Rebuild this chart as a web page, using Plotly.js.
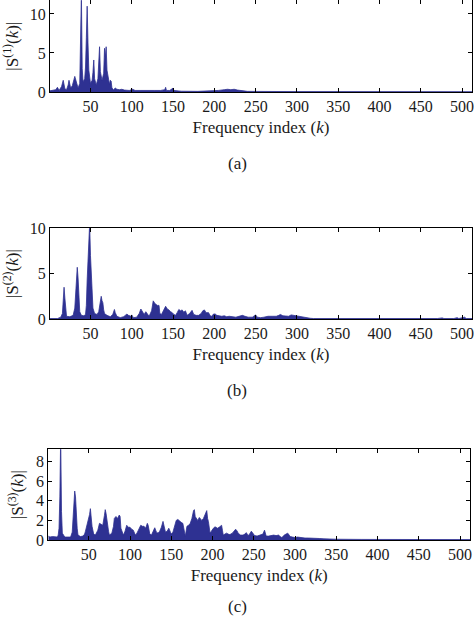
<!DOCTYPE html>
<html>
<head>
<meta charset="utf-8">
<script src="https://cdn.plot.ly/plotly-3.0.1.min.js"></script>
<style>html,body{margin:0;padding:0;background:#fff;}#chart{width:474px;height:617px;}</style>
</head>
<body>
<div id="chart"></div>
<script>
// Frequency-index tick labels
const xTicks = [50, 100, 150, 200, 250, 300, 350, 400, 450, 500];

// Panel (a): |S^(1)(k)|
const kA = [1,4,8,10,12,15,17,19,21,23,24,26,28,31,33,35,37,38,39,40,41,43,44,45,46,47,48,50,52,53,54,55,57,59,60,61,62,64,66,67,68,69,70,72,73,74,75,76,78,80,82,85,88,91,94,97,101,104,110,120,128,135,140,141,142,146,150,151,160,180,200,205,212,216,220,224,228,235,240,300,400,512];
const sA = [0.15,0.2,0.3,0.6,0.2,0.7,1.5,0.4,0.3,0.9,1.5,0.5,0.8,2.0,1.1,0.5,1.1,5.3,12.5,3.0,1.3,1.7,3.2,7.0,11.0,6.3,2.8,1.1,1.5,2.5,4.1,1.7,0.9,1.7,4.0,5.8,2.6,1.5,2.4,5.6,4.5,5.8,2.8,1.5,1.0,1.5,1.4,0.5,0.3,0.5,0.35,0.3,0.35,0.25,0.25,0.2,0.35,0.2,0.2,0.15,0.2,0.2,0.3,0.6,0.2,0.2,0.5,0.2,0.1,0.08,0.1,0.2,0.3,0.35,0.3,0.35,0.25,0.15,0.08,0.05,0.04,0.04];

// Panel (b): |S^(2)(k)|
const kB = [1,10,14,16,17,18,19,20,21,25,29,31,32,33,34,35,36,37,39,42,44,45,46,47,48,49,50,51,52,53,55,58,60,61,62,63,64,65,66,67,70,74,77,79,80,82,86,90,93,94,96,99,100,102,106,109,111,113,115,117,119,121,124,126,128,129,131,133,134,136,139,141,143,145,147,149,151,153,155,157,159,161,163,165,167,170,173,175,178,181,184,186,188,190,193,195,197,199,201,203,206,209,212,215,218,222,226,230,234,237,241,246,250,252,256,260,265,270,275,278,280,283,287,290,293,296,299,302,305,309,312,316,320,350,400,470,476,478,490,494,496,503,505,512];
const sB = [0.05,0.05,0.2,0.6,2.0,3.5,2.3,0.7,0.3,0.25,0.4,1.2,2.5,4.0,5.7,4.5,2.5,0.8,0.4,0.35,0.5,1.5,4.3,6.5,8.5,10.5,7.0,4.3,2.5,1.2,0.6,0.5,0.8,1.5,2.1,2.5,2.0,1.8,1.0,0.6,0.4,0.25,0.5,1.05,0.7,0.3,0.15,0.25,0.45,0.55,0.4,0.3,0.45,0.15,0.2,0.6,1.1,0.8,0.5,0.8,0.6,0.3,0.9,2.0,1.7,1.6,1.5,1.5,0.6,0.5,1.0,1.4,1.1,1.0,0.8,0.7,0.5,0.4,0.7,1.05,0.9,1.0,0.75,0.9,0.4,0.6,0.95,0.5,0.4,0.4,0.6,0.9,1.0,0.7,0.7,0.35,0.3,0.55,0.55,0.4,0.35,0.3,0.35,0.25,0.3,0.25,0.2,0.3,0.4,0.3,0.2,0.2,0.45,0.2,0.15,0.2,0.3,0.3,0.3,0.4,0.5,0.35,0.3,0.3,0.45,0.4,0.3,0.25,0.2,0.2,0.15,0.08,0.05,0.04,0.04,0.05,0.12,0.05,0.05,0.15,0.05,0.2,0.05,0.05];

// Panel (c): |S^(3)(k)|
const kC = [1,3,6,9,12,13,14,15,16,17,18,21,25,28,30,31,32,33,34,35,36,37,40,43,45,46,48,50,51,52,53,54,56,58,61,63,65,67,69,70,71,72,74,75,78,80,81,83,85,87,88,89,91,92,94,96,98,100,102,104,106,107,109,111,113,115,117,119,121,122,124,126,128,130,132,134,136,138,140,141,143,145,147,149,150,152,154,156,158,160,162,164,166,167,169,171,173,175,177,178,179,181,182,184,185,187,189,191,193,194,195,197,199,201,203,205,206,208,210,211,212,213,215,217,219,221,224,226,228,230,231,234,237,239,241,243,245,247,249,251,254,258,261,263,264,265,268,271,274,277,280,282,284,287,289,291,292,294,297,300,303,306,309,312,316,320,324,327,330,335,340,350,380,420,460,512];
const sC = [0.4,0.3,0.35,0.3,0.3,0.5,1.2,4.4,10.5,2.9,0.7,0.3,0.3,0.3,0.8,2.0,4.2,5.0,4.4,2.5,1.2,0.5,0.35,0.4,0.6,0.9,1.5,2.2,2.6,3.2,2.4,1.4,0.6,0.5,1.0,1.7,1.6,1.5,2.5,3.1,2.7,1.9,0.9,0.5,0.7,1.4,2.2,2.4,2.2,2.55,2.4,1.2,0.6,0.5,0.9,1.5,1.3,1.3,1.1,1.0,0.6,0.5,0.8,1.2,1.5,1.4,1.4,1.2,1.7,1.5,0.6,0.5,0.9,1.25,0.8,0.7,0.9,1.3,1.9,1.6,0.8,0.9,1.2,0.8,0.6,0.8,1.5,2.0,2.1,1.9,1.8,1.7,0.9,0.4,1.4,1.5,1.7,2.2,3.0,3.1,2.4,2.1,2.0,2.3,2.2,2.0,2.2,2.6,3.0,2.2,1.9,0.7,1.0,1.2,1.35,1.3,1.2,1.3,1.4,1.5,1.0,0.5,0.6,0.7,0.6,0.55,0.7,0.9,1.1,0.9,0.7,0.5,0.5,0.6,0.75,0.45,0.6,0.9,0.7,0.45,0.4,0.5,0.6,1.0,0.7,0.4,0.4,0.45,0.5,0.45,0.5,0.35,0.25,0.5,0.65,0.7,0.6,0.35,0.3,0.25,0.3,0.25,0.25,0.2,0.2,0.2,0.2,0.22,0.15,0.12,0.1,0.08,0.06,0.06,0.05,0.04];

const C = '#2e3192';
const FONT = 'Liberation Serif, Times New Roman, serif';
const TXT = '#1a1a1a';

function trace(k, s, xa, ya) {
  return {x: k, y: s, xaxis: xa, yaxis: ya, type: 'scatter', mode: 'lines',
    fill: 'tozeroy', fillcolor: C, line: {color: C, width: 0.8}, hoverinfo: 'skip', showlegend: false};
}

function xAxis(domain, anchor) {
  return {domain: domain, anchor: anchor, range: [1, 512], tickmode: 'array', tickvals: xTicks,
    ticks: 'inside', ticklen: 4, tickwidth: 1, tickcolor: '#000', showline: true, linecolor: '#000', linewidth: 1,
    mirror: 'ticks', showgrid: false, zeroline: false, ticklabeloverflow: 'allow',
    tickfont: {family: FONT, size: 16, color: TXT},
    title: {text: 'Frequency index (<i>k</i>)', font: {family: FONT, size: 17, color: TXT}, standoff: 6}};
}
function yAxis(domain, anchor, range, tv, label) {
  return {domain: domain, anchor: anchor, range: range, tickmode: 'array', tickvals: tv,
    ticks: 'inside', ticklen: 4, tickwidth: 1, tickcolor: '#000', showline: true, linecolor: '#000', linewidth: 1,
    mirror: 'ticks', showgrid: false, zeroline: false, ticklabeloverflow: 'allow',
    tickfont: {family: FONT, size: 16, color: TXT},
    title: {text: label, font: {family: FONT, size: 17, color: TXT}, standoff: 8}};
}

const data = [trace(kA, sA, 'x', 'y'), trace(kB, sB, 'x2', 'y2'), trace(kC, sC, 'x3', 'y3')];

const ann = (t, y) => ({text: t, xref: 'paper', yref: 'paper', x: 0.5, y: y, xanchor: 'center', yanchor: 'middle',
  showarrow: false, font: {family: FONT, size: 17, color: TXT}});

const layout = {
  width: 474, height: 617, margin: {l: 0, r: 0, t: 0, b: 0},
  paper_bgcolor: '#fff', plot_bgcolor: '#fff',
  xaxis: xAxis([0.1055, 0.9958], 'y'),
  yaxis: yAxis([0.8509, 0.9995], 'x', [0, 11.75], [0, 5, 10], '|S<sup>(1)</sup>(<i>k</i>)|'),
  xaxis2: xAxis([0.1055, 0.9958], 'y2'),
  yaxis2: yAxis([0.483, 0.630], 'x2', [0, 10], [0, 5, 10], '|S<sup>(2)</sup>(<i>k</i>)|'),
  xaxis3: xAxis([0.1019, 0.9916], 'y3'),
  yaxis3: yAxis([0.1248, 0.2718], 'x3', [0, 9.26], [0, 2, 4, 6, 8], '|S<sup>(3)</sup>(<i>k</i>)|'),
  annotations: [ann('(a)', 0.7358), ann('(b)', 0.3679), ann('(c)', 0.0178)]
};

Plotly.newPlot('chart', data, layout, {staticPlot: true, displayModeBar: false});
</script>
</body>
</html>
